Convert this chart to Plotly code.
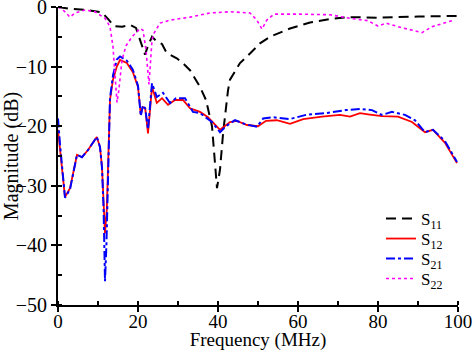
import plotly.graph_objects as go

# ---- data ----
s11_x = [0, 3, 7, 11, 12.5, 14, 16, 18, 19.5, 20.5, 21.75, 22.5, 23.5, 24.7, 26, 27, 28, 29.7, 31.5, 33,
         35.5, 37, 38.5, 39.75, 40.5, 41.3, 42.5, 43, 45.5, 48, 50.5, 53, 58, 63, 68, 73, 80, 90, 100]
s11_y = [0, -0.3, -0.5, -0.9, -2.0, -3.2, -3.3, -3.0, -3.5, -5.5, -8, -6.5, -5, -5.8, -6.2, -7.5, -8, -8.6, -9.6, -10.6,
         -13.4, -15.6, -20, -30.4, -27.3, -21, -14, -12.2, -9.4, -7.8, -6.1, -5, -3.6, -2.6, -2.0, -1.7, -1.8, -1.6, -1.5]

s12_x = [0, 0.5, 1.75, 3, 4.75, 6, 7.5, 9.7, 10.5, 11, 11.3, 11.75, 12.2, 12.5, 13, 13.75, 14.7, 15.5, 17.2, 18.7,
         20, 20.7, 21.2, 21.8, 22.5, 23.5, 24.7, 26, 27.5, 29.25, 31.25, 33, 35.5, 37.5, 40.5, 43, 44.75, 47.25, 50,
         52, 54.7, 58, 61.3, 66, 70.5, 73, 75.5, 77.5, 81, 85, 88.5, 91.75, 93.75, 96.75, 99.75]
s12_y = [-20.6, -24, -31.9, -30.4, -24.8, -25.2, -24, -21.8, -23.5, -26.8, -32, -38, -34, -26.8, -15.6, -12.2, -10, -8.9, -9.4, -10.9,
         -13.4, -18.1, -16.8, -17, -21.2, -13.4, -16.1, -15.3, -16.4, -15.6, -15.6, -17, -17.6, -18.5, -20.6, -19.3, -19.1, -19.8, -20,
         -19.1, -19, -19.6, -18.8, -18.4, -18.1, -18.4, -17.8, -18, -18.3, -18.4, -19.3, -21, -20.6, -22.8, -26.2]

s21_x = [0, 0.5, 1.75, 3, 4.75, 6, 7.5, 9.7, 10.5, 11, 11.4, 11.75, 12.1, 12.5, 13, 13.75, 14.7, 15.5, 17.2, 18.7,
         20, 20.7, 21.2, 21.8, 22.5, 23.5, 24.7, 26.25, 28, 29.5, 31.75, 33.75, 35.5, 38.5, 40.5, 42, 44.25, 47, 49.75,
         51.3, 53.75, 58, 62, 67, 72, 75.5, 78.5, 81, 83.5, 86.75, 89.25, 91.75, 93.75, 96.75, 99.75]
s21_y = [-18.7, -23, -32, -30.6, -24.8, -25.2, -24, -21.8, -23.5, -27, -34, -46, -40, -28, -15.3, -11.5, -8.8, -8.3, -9.0, -10.5,
         -13.2, -18.3, -16.5, -17, -20.5, -12.8, -15.1, -14.4, -16.1, -15.3, -15.3, -17.6, -17.8, -19.3, -21, -20, -19, -19.7, -20.1,
         -18.7, -18.5, -18.8, -18.1, -17.8, -17.3, -17.1, -17.3, -18.1, -17.6, -18.1, -19, -21, -20.6, -22.5, -26]

s22_x = [0, 1, 3, 4.25, 6.75, 9.25, 11.75, 13, 13.75, 14.75, 15.2, 16, 17, 18.5, 20.5, 21.25, 22, 22.75, 23.5, 24,
         25.5, 28, 33, 38, 43, 48, 49.7, 51, 52.2, 54, 60.5, 68, 73, 77.5, 80, 82, 85, 91, 93.5, 99]
s22_y = [0, -0.3, -1.7, -1.0, -0.5, -0.8, -1.9, -3.3, -6.7, -16, -14, -8.9, -6.5, -5, -3.6, -3.9, -7.2, -13, -5.5, -4.4,
         -2.7, -2.2, -1.7, -1.0, -0.8, -1.0, -2.2, -3.7, -2.2, -1.2, -1.2, -1.3, -1.9, -2.3, -3.2, -2.7, -3.3, -4.3, -3.3, -2.2]

series_subs = ["11", "12", "21", "22"]
x_ticks = [0, 20, 40, 60, 80, 100]
y_ticks = [0, -10, -20, -30, -40, -50]

SERIF = "Liberation Serif"

series = [
    (s11_x, s11_y, dict(color="black", width=2, dash="10px,6px")),
    (s12_x, s12_y, dict(color="#ff0000", width=1.8)),
    (s21_x, s21_y, dict(color="#0000ff", width=2, dash="dashdot")),
    (s22_x, s22_y, dict(color="#ff00ff", width=1.6, dash="dot")),
]
legend_ids = ["legend", "legend2", "legend3", "legend4"]
legend_rows = [0.2886, 0.2215, 0.1544, 0.0872]   # one small legend per series, stacked

fig = go.Figure()
for (xs, ys, ln), sub, lid in zip(series, series_subs, legend_ids):
    fig.add_trace(go.Scatter(x=xs, y=ys, mode="lines", name="S<sub>%s</sub>" % sub,
                             line=ln, legend=lid))

legend_style = dict(x=0.8075, xanchor="left", yanchor="middle", bgcolor="rgba(0,0,0,0)",
                    borderwidth=0, font=dict(family=SERIF, size=17, color="black"))
layout_legends = {lid: dict(legend_style, y=yy) for lid, yy in zip(legend_ids, legend_rows)}

fig.update_layout(
    width=474, height=351,
    margin=dict(l=58, r=16, t=7, b=46),
    paper_bgcolor="white", plot_bgcolor="white",
    font=dict(family=SERIF, size=20, color="black"),
    showlegend=True,
    **layout_legends,
)
fig.update_xaxes(
    range=[0, 100], tickvals=x_ticks, showgrid=False, zeroline=False, automargin=False,
    showline=True, linecolor="black", linewidth=2,
    ticks="outside", ticklen=5, tickwidth=2, tickcolor="black",
    minor=dict(dtick=10, ticks="inside", ticklen=4, tickwidth=1.5, tickcolor="black", showgrid=False),
    title=dict(text="Frequency (MHz)", standoff=0, font=dict(family=SERIF, size=19)),
    tickfont=dict(family=SERIF, size=19), ticklabelstandoff=-7, ticklabeloverflow="allow",
)
fig.update_yaxes(
    range=[-50, 0], tickvals=y_ticks, showgrid=False, zeroline=False, automargin=False,
    showline=True, linecolor="black", linewidth=2,
    ticks="outside", ticklen=5, tickwidth=2, tickcolor="black",
    minor=dict(dtick=5, ticks="inside", ticklen=4, tickwidth=1.5, tickcolor="black", showgrid=False),
    title=dict(text="Magnitude (dB)", standoff=0, font=dict(family=SERIF, size=20)),
    tickfont=dict(family=SERIF, size=20), ticklabeloverflow="allow",
)

fig.write_html("out.html")
